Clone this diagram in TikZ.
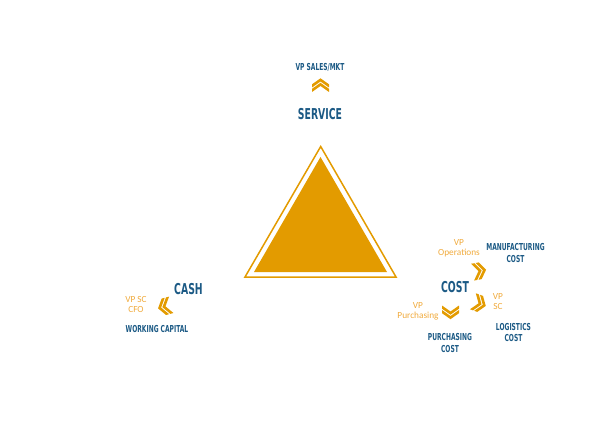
\documentclass[tikz,border=0pt]{standalone}
\usepackage{fontspec}
\setmainfont{Carlito}
\newfontfamily\headfont{DejaVu Sans}[FakeStretch=0.62]
\newfontfamily\vpfont{Carlito}
\definecolor{tri}{HTML}{E39B00}
\definecolor{vptext}{HTML}{F0AA3C}
\definecolor{blu}{HTML}{1C5A85}
\tikzset{
  big/.style={font=\headfont\bfseries\fontsize{15}{16}\selectfont, text=blu, inner sep=0pt, align=center},
  small/.style={font=\headfont\bfseries\fontsize{9.6}{11.8}\selectfont, text=blu, inner sep=0pt, align=center},
  vp/.style={font=\vpfont\fontsize{9.3}{9.6}\selectfont, text=vptext, inner sep=0pt, align=center},
  chev/.pic={
    \fill[tri] (-8.5pt,-6.5pt) -- (0pt,-0.5pt) -- (8.5pt,-6.5pt) -- (8.5pt,-3.3pt) -- (0pt,2.7pt) -- (-8.5pt,-3.3pt) -- cycle;
    \fill[tri] (-8.5pt,-2pt) -- (0pt,4pt) -- (8.5pt,-2pt) -- (8.5pt,1.2pt) -- (0pt,7.2pt) -- (-8.5pt,1.2pt) -- cycle;
  }
}
\begin{document}
\begin{tikzpicture}[x=1pt,y=-1pt]
\useasboundingbox (0,0) rectangle (600,433);
% triangle
\coordinate (oa) at (320.7,146.5);
\coordinate (ob) at (245,277);
\coordinate (oc) at (396,277);
\coordinate (ia) at (320.5,157);
\coordinate (ib) at (254,272);
\coordinate (ic) at (387,272);
\draw[tri, line width=1.5pt, line join=miter] (oa) -- (ob) -- (oc) -- cycle;
\fill[tri] (ia) -- (ib) -- (ic) -- cycle;
% service
\node[small] (vpsales) at (320,67) {VP SALES/MKT};
\pic (chs) at (320.5,85.5) {chev};
\node[big] (service) at (320,114) {SERVICE};
% cost
\node[big] (cost) at (455,287.5) {COST};
\node[small] (manu) at (515.5,253) {MANUFACTURING\\COST};
\node[vp] (vpops) at (459,248.5) {VP\\Operations};
\pic[rotate=-80] (chm) at (479,271) {chev};
\node[vp] (vpsc) at (498,301.5) {VP\\SC};
\pic[rotate=-110] (chl) at (479,303.5) {chev};
\node[small] (logi) at (513.5,332.5) {LOGISTICS\\COST};
\node[vp] (vppur) at (418,311.5) {VP\\Purchasing};
\pic[rotate=180] (chp) at (450.5,312) {chev};
\node[small] (purc) at (450,343) {PURCHASING\\COST};
% cash
\node[big] (cash) at (188.5,289) {CASH};
\node[vp] (vpcfo) at (136,304.5) {VP SC\\CFO};
\pic[rotate=105] (chc) at (165,306.5) {chev};
\node[small] (wc) at (157,329) {WORKING CAPITAL};
\end{tikzpicture}
\end{document}
